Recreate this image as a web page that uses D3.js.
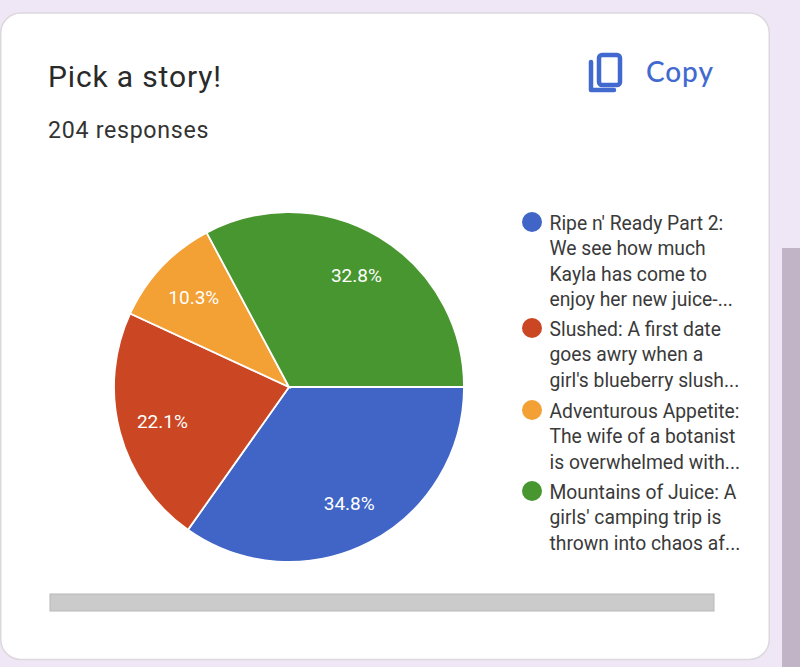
<!DOCTYPE html>
<html>
<head>
<meta charset="utf-8">
<style>
html,body{margin:0;padding:0;background:#f0e7f6;overflow:hidden}
svg{display:block}
text{font-family:Roboto,sans-serif}
</style>
<script src="https://cdn.jsdelivr.net/npm/d3@7"></script>
</head>
<body>
<svg id="chart" width="800" height="667"></svg>
<script>
// Poll results, in chart order starting at three o'clock and running clockwise
const stories = ["Ripe n' Ready", "Slushed", "Adventurous Appetite", "Mountains of Juice"];
const shares = [34.8, 22.1, 10.3, 32.8];
const sliceColors = ["#4065c6", "#cb4724", "#f3a035", "#489630"];
const legendLines = [
  ["Ripe n' Ready Part 2:", "We see how much", "Kayla has come to", "enjoy her new juice-..."],
  ["Slushed: A first date", "goes awry when a", "girl's blueberry slush..."],
  ["Adventurous Appetite:", "The wife of a botanist", "is overwhelmed with..."],
  ["Mountains of Juice: A", "girls' camping trip is", "thrown into chaos af..."]
];
const legendBaselines = [230, 336, 418, 499];

const svg = d3.select("#chart");

// Page backdrop: scrollbar track and the white card
svg.append("rect").attr("x", 782).attr("y", 248).attr("width", 18).attr("height", 419).attr("fill", "#c0b4c6");
svg.append("rect").attr("x", 0.75).attr("y", 13).attr("width", 768.5).attr("height", 646.5)
  .attr("rx", 20).attr("fill", "#fff").attr("stroke", "#dcd8de").attr("stroke-width", 1.5);

// Header
svg.append("text").attr("x", 48).attr("y", 87).attr("font-size", 30).attr("letter-spacing", 0.85).attr("fill", "#2a2a2a").text("Pick a story!");
svg.append("text").attr("x", 48).attr("y", 138).attr("font-size", 23.2).attr("letter-spacing", 0.7).attr("fill", "#333").text("204 responses");

// Copy button
const copyBlue = "#4169cf";
svg.append("rect").attr("x", 599).attr("y", 55).attr("width", 21).attr("height", 30).attr("rx", 3)
  .attr("fill", "none").attr("stroke", copyBlue).attr("stroke-width", 4.5);
svg.append("path").attr("d", d3.line()([[591, 62], [591, 90], [614, 90]]))
  .attr("fill", "none").attr("stroke", copyBlue).attr("stroke-width", 4.5).attr("stroke-linecap", "round").attr("stroke-linejoin", "round");
svg.append("text").attr("x", 646).attr("y", 82).attr("font-size", 28).attr("font-weight", 500).attr("letter-spacing", 0.9)
  .style("font-family", "Lato, sans-serif").attr("fill", copyBlue).text("Copy");

// Pie, starting at three o'clock
const center = [289, 387];
const radius = 175;
const pie = d3.pie().sort(null).startAngle(Math.PI / 2).endAngle(Math.PI * 2.5);
const slice = d3.arc().innerRadius(0).outerRadius(radius);
const labelArc = d3.arc().innerRadius(131).outerRadius(131);
const color = d3.scaleOrdinal().domain(stories).range(sliceColors);
const arcs = pie(shares);

const pieGroup = svg.append("g").attr("transform", `translate(${center})`);
pieGroup.selectAll("path").data(arcs).join("path")
  .attr("d", slice)
  .attr("fill", (d, i) => color(stories[i]))
  .attr("stroke", "#fff")
  .attr("stroke-width", 1.8);
pieGroup.selectAll("text").data(arcs).join("text")
  .attr("transform", d => `translate(${labelArc.centroid(d)})`)
  .attr("text-anchor", "middle")
  .attr("dy", "0.36em")
  .attr("font-size", 19)
  .attr("fill", "#fff")
  .text(d => d.data.toFixed(1) + "%");

// Legend
const legend = svg.append("g").selectAll("g").data(legendLines).join("g");
legend.append("circle")
  .attr("cx", 532)
  .attr("cy", (d, i) => legendBaselines[i] - 8)
  .attr("r", 10)
  .attr("fill", (d, i) => color(stories[i]));
legend.each(function (lines, i) {
  d3.select(this).selectAll("text").data(lines).join("text")
    .attr("x", 549.5)
    .attr("y", (l, j) => legendBaselines[i] + j * 25.4)
    .attr("font-size", 19.3)
    .attr("fill", "#3a3a3a")
    .text(l => l);
});

// Horizontal scrollbar under the chart
svg.append("rect").attr("x", 50).attr("y", 594).attr("width", 664).attr("height", 17)
  .attr("fill", "#cbcbcb").attr("stroke", "#b8b8b8").attr("stroke-width", 1);
</script>
</body>
</html>
